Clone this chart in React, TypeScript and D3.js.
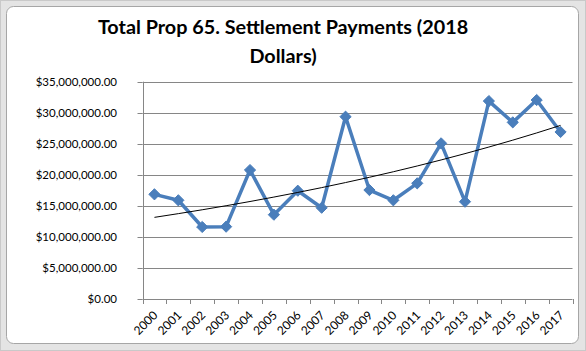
import React from "react";
import * as d3 from "d3";

const years = ["2000","2001","2002","2003","2004","2005","2006","2007","2008","2009","2010","2011","2012","2013","2014","2015","2016","2017"];
const payments = [16860000,15900000,11600000,11650000,20770000,13580000,17440000,14700000,29360000,17550000,15900000,18630000,25070000,15670000,31880000,28450000,32050000,26900000];
const yTicks = [0,5000000,10000000,15000000,20000000,25000000,30000000,35000000];
const titleLines = ["Total Prop 65. Settlement Payments (2018","Dollars)"];

const W = 586, H = 351;
const left = 142.5, right = 572.5, top = 81.7, bottom = 299;

export default function App() {
  const x = d3.scaleBand().domain(years).range([left, right]);
  const y = d3.scaleLinear().domain([0, 35000000]).range([bottom, top]);
  const cx = (yr: string) => (x(yr) as number) + x.bandwidth() / 2;

  // exponential trendline fit
  const xs = years.map((_, i) => i + 1);
  const ly = payments.map(v => Math.log(v));
  const mx = d3.mean(xs) as number, my = d3.mean(ly) as number;
  const b = d3.sum(xs.map((xv, i) => (xv - mx) * (ly[i] - my))) / d3.sum(xs.map(xv => (xv - mx) ** 2));
  const a = my - b * mx;
  const trend = years.map((yr, i) => [cx(yr), y(Math.exp(a + b * (i + 1)))] as [number, number]);

  const line = d3.line<number>().x((_, i) => cx(years[i])).y(v => y(v));
  const trendLine = d3.line().curve(d3.curveMonotoneX);
  const fmt = (v: number) => "$" + d3.format(",.2f")(v);
  const diamond = d3.symbol().type(d3.symbolDiamond2).size(80)();

  return (
    <svg width={W} height={H} style={{ display: "block", position: "absolute", left: 0, top: 0 }}>
      <rect x={0} y={0} width={W} height={H} fill="#e4e4e4" />
      <rect x={0.5} y={0.5} width={W - 1} height={H - 1} fill="none" stroke="#c9c9c9" />
      <rect x={6.5} y={6.5} width={572} height={337} rx={7} fill="#ffffff" stroke="#a6a6a6" />
      {titleLines.map((t, i) => (
        <text key={i} x={283} y={34 + i * 29} textAnchor="middle" fontFamily="Lato, 'Open Sans', sans-serif" fontWeight="bold" fontSize={19.8} fill="#000">{t}</text>
      ))}
      {yTicks.map(t => (
        <g key={t}>
          {t > 0 && <line x1={left} x2={right} y1={Math.round(y(t)) + 0.5} y2={Math.round(y(t)) + 0.5} stroke="#868686" />}
          <line x1={left - 5} x2={left} y1={Math.round(y(t)) + 0.5} y2={Math.round(y(t)) + 0.5} stroke="#868686" />
          <text x={117} y={y(t) + 4} textAnchor="end" fontFamily="Lato, sans-serif" fontSize={11.5} fill="#000">{fmt(t)}</text>
        </g>
      ))}
      <line x1={Math.round(left) + 0.5} x2={Math.round(left) + 0.5} y1={top} y2={bottom} stroke="#868686" />
      <line x1={left} x2={right} y1={Math.round(bottom) + 0.5} y2={Math.round(bottom) + 0.5} stroke="#868686" />
      {years.concat(["end"]).map((yr, i) => {
        const xv = Math.round(left + i * x.bandwidth()) + 0.5;
        return <line key={yr} x1={xv} x2={xv} y1={bottom} y2={bottom + 5} stroke="#868686" />;
      })}
      {years.map(yr => (
        <text key={yr} transform={`translate(${cx(yr) + 4},${bottom + 17}) rotate(-45)`} textAnchor="end" fontFamily="Lato, sans-serif" fontSize={12} fill="#000">{yr}</text>
      ))}
      <path d={line(payments) as string} fill="none" stroke="#4a7ebb" strokeWidth={3.5} strokeLinejoin="round" />
      {payments.map((v, i) => (
        <path key={i} d={diamond as string} transform={`translate(${cx(years[i])},${y(v)})`} fill="#4a7ebb" stroke="#4a7ebb" strokeWidth={1} />
      ))}
      <path d={trendLine(trend) as string} fill="none" stroke="#000" strokeWidth={1} />
    </svg>
  );
}
